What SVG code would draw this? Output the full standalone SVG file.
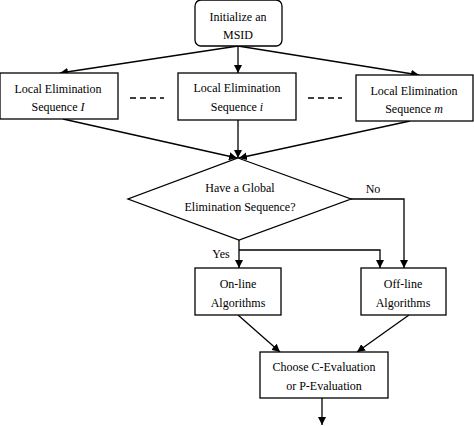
<svg xmlns="http://www.w3.org/2000/svg" width="474" height="426" viewBox="0 0 474 426">
<style>
.box{fill:#fff;stroke:#000;stroke-width:1.3}
.ln{fill:none;stroke:#000;stroke-width:1.3}
.ar{fill:none;stroke:#000;stroke-width:1.3;marker-end:url(#ah)}
text{font-family:"Liberation Serif","Times New Roman",serif;font-size:12px;fill:#000;text-anchor:middle}
.dash{stroke:#000;stroke-width:1.3;stroke-dasharray:6,4}
</style>
<defs>
<marker id="ah" viewBox="0 0 10 10" refX="10" refY="5" markerWidth="8" markerHeight="8" markerUnits="userSpaceOnUse" orient="auto">
<path d="M0,0 L10,5 L0,10 z" fill="#000"/>
</marker>
</defs>
<rect width="474" height="426" fill="#fff"/>
<g id="connectors">
<line class="ar" x1="238" y1="46" x2="60" y2="73"/>
<line class="ar" x1="238" y1="46" x2="238" y2="73"/>
<line class="ar" x1="238" y1="46" x2="419" y2="75"/>
<line class="ar" x1="63" y1="119" x2="237" y2="158"/>
<line class="ar" x1="238" y1="120" x2="238" y2="158"/>
<line class="ar" x1="410" y1="121" x2="239" y2="158"/>
<polyline class="ar" points="351,199 404,199 404,268"/>
<line class="ar" x1="239" y1="240" x2="239" y2="268"/>
<polyline class="ar" points="239,250 380,250 380,268"/>
<line class="ar" x1="238" y1="315" x2="280" y2="352"/>
<line class="ar" x1="409" y1="315" x2="357" y2="352"/>
<line class="ar" x1="322" y1="398" x2="322" y2="425"/>
<line class="dash" x1="130" y1="98" x2="164" y2="98"/>
<line class="dash" x1="308" y1="98" x2="342" y2="98"/>
<text x="373" y="193">No</text>
<text x="221" y="258">Yes</text>
</g>
<g id="init">
<rect class="box" x="195" y="0" width="87" height="46" rx="6"/>
<text x="238" y="21">Initialize an</text>
<text x="238" y="39">MSID</text>
</g>
<g id="les1">
<rect class="box" x="0" y="73" width="118" height="46"/>
<text x="58" y="93">Local Elimination</text>
<text x="58" y="111">Sequence <tspan font-style="italic">I</tspan></text>
</g>
<g id="lesi">
<rect class="box" x="178" y="73" width="118" height="47"/>
<text x="237" y="92">Local Elimination</text>
<text x="237" y="111">Sequence <tspan font-style="italic">i</tspan></text>
</g>
<g id="lesm">
<rect class="box" x="356" y="75" width="117" height="46"/>
<text x="414" y="95">Local Elimination</text>
<text x="414" y="113">Sequence <tspan font-style="italic">m</tspan></text>
</g>
<g id="decision">
<polygon class="box" points="238,158 351,199 239,240 128,199"/>
<text x="240" y="192">Have a Global</text>
<text x="240" y="211">Elimination Sequence?</text>
</g>
<g id="online">
<rect class="box" x="195" y="268" width="86" height="47"/>
<text x="238" y="288">On-line</text>
<text x="238" y="307">Algorithms</text>
</g>
<g id="offline">
<rect class="box" x="361" y="268" width="85" height="47"/>
<text x="403" y="288">Off-line</text>
<text x="403" y="307">Algorithms</text>
</g>
<g id="choose">
<rect class="box" x="260" y="352" width="128" height="46"/>
<text x="324" y="371">Choose C-Evaluation</text>
<text x="324" y="390">or P-Evaluation</text>
</g>
</svg>
